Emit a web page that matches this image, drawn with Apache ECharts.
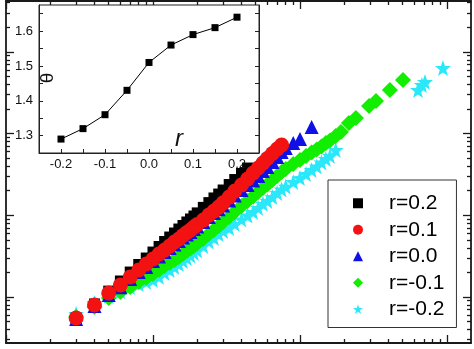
<!DOCTYPE html>
<html>
<head>
<meta charset="utf-8">
<script src="https://cdn.jsdelivr.net/npm/echarts@6/dist/echarts.min.js"></script>
<style>html,body{margin:0;padding:0;background:#fff}#c{width:474px;height:349px}</style>
</head>
<body>
<div id="c"></div>
<script>
// ---------- main plot data (log-log) ----------
const xBlack = [3,4,5,6,7,8,9,10,11,12,13,14,15,16,17,18,19,20,22,24,26,28,30,33,36,40,44];
const yBlack = [5.53,8.21,11.8,15.7,20.2,25.0,30.0,35.5,41.5,47.8,54.2,60.7,67.9,75.0,82.8,90.1,98.0,107,125,143,163,182,204,238,274,325,379];

const xRed = [3,4,5,6,7,8,9,10,11,12,13,14,15,16,17,18,19,20,22,24,26,28,30,33,36,40,44,48,52,56,60,65,70,75];
const yRed = [5.53,7.98,11.2,14.0,17.6,21.4,25.3,29.2,33.6,37.6,42.1,47.1,51.3,56.6,61.5,66.1,71.9,77.1,87.5,101,113,126,142,167,198,235,278,329,379,437,496,571,648,725];

const xBlue = [3,4,5,6,7,8,9,10,11,12,13,14,15,16,17,18,19,20,22,24,26,28,30,33,36,40,44,48,52,56,60,65,70,75,80,90,100,120];
const yBlue = [5.38,7.76,10.6,13.2,16.6,20.2,23.3,27.6,31.3,35.5,39.8,43.9,48.5,53.5,58.2,62.5,68.0,72.9,82.8,95.3,107,119,132,152,175,204,235,267,303,349,390,449,517,596,667,767,859,1205];

const xGreen = [3,4,5,6,7,8,9,10,11,12,13,14,15,16,17,18,19,20,22,24,26,28,30,33,36,40,44,48,52,56,60,65,70,75,80,90,100,110,120,130,140,150,160,175,190,215,240,295,329,409,502];
const yGreen = [5.69,7.55,9.72,11.5,13.3,15.3,17.1,19.1,21.4,23.9,26.1,28.4,30.9,33.6,36.6,39.2,42.1,45.2,51.3,59.0,66.1,74.0,82.8,95.3,110,130,150,170,193,216,238,270,303,339,369,425,475,532,587,639,695,767,823,935,1047,1349,1552,2178,2506,3417,4530];

const xCyan = [3,4,5,6,7,8,9,10,11,12,13,14,15,16,17,18,19,20,22,24,26,28,30,33,36,40,44,48,52,56,60,65,70,75,80,90,100,110,120,130,140,150,160,175,635,676,709,939];
const yCyan = [6.19,8.45,10.3,11.8,13.3,14.4,15.3,16.2,17.6,19.7,21.4,23.3,25.3,27.6,30.0,32.2,34.6,37.1,42.1,47.8,52.7,59.0,64.3,69.9,78.3,88.9,99.4,110,123,138,150,167,188,207,225,256,286,320,359,396,443,489,532,630,3417,3936,4285,6353];

const seriesNames = ['r=0.2','r=0.1','r=0.0','r=-0.1','r=-0.2'];

// ---------- inset data ----------
const rValues = [-0.2,-0.15,-0.1,-0.05,0.0,0.05,0.1,0.15,0.2];
const thetaValues = [1.29,1.32,1.36,1.43,1.51,1.56,1.59,1.61,1.64];
const insetXLabels = [-0.2,-0.1,0.0,0.1,0.2];
const insetXTicks = [-0.25,-0.2,-0.15,-0.1,-0.05,0,0.05,0.1,0.15,0.2,0.25];
const insetYLabels = [1.3,1.4,1.5,1.6];
const insetYTicks = [1.3,1.35,1.4,1.45,1.5,1.55,1.6,1.65];

// ---------- axis ticks (log) ----------
const xMajor = [1,10,100,1000];
const xMinor = [2,3,4,5,6,7,8,9,20,30,40,50,60,70,80,90,200,300,400,500,600,700,800,900];
const yMajor = [10,100,1000,10000];
const yMinor = [3,4,5,6,7,8,9,20,30,40,50,60,70,80,90,200,300,400,500,600,700,800,900,2000,3000,4000,5000,6000,7000,8000,9000,20000,30000,40000];

const X_MIN = 1, X_MAX = 1457, Y_MIN = 2.735, Y_MAX = 41976;
const STAR = 'path://M0,-10L2.35,-3.24L9.51,-3.09L3.8,1.24L5.88,8.09L0,4L-5.88,8.09L-3.8,1.24L-9.51,-3.09L-2.35,-3.24Z';
const FONT = 'Liberation Sans, Arial, sans-serif';
const AX = '#1a1a1a';

function pairs(xs, ys){ return xs.map((x,i)=>[x, ys[i]]); }

function logAxis(kind, pos, ticks, len, showLine){
  return {
    type:'log', logBase:10, gridIndex:0, position:pos,
    min: kind==='x'?X_MIN:Y_MIN, max: kind==='x'?X_MAX:Y_MAX,
    axisLine:{show:showLine, onZero:false, lineStyle:{color:AX, width:1.8}},
    axisTick:{show:true, inside:true, length:len, customValues:ticks, lineStyle:{color:AX, width:1.3}},
    axisLabel:{show:false}, splitLine:{show:false}, minorTick:{show:false}, minorSplitLine:{show:false}
  };
}

const chart = echarts.init(document.getElementById('c'), null, {renderer:'canvas'});
const option = {
  animation:false,
  backgroundColor:'#fff',
  grid:[
    {left:6, right:3, top:1, bottom:6, show:false},
    {left:39, top:5, width:220, height:148, show:true, backgroundColor:'#fff', borderColor:'#222', borderWidth:1, z:3}
  ],
  xAxis:[
    logAxis('x','bottom',xMajor,8,true),
    logAxis('x','bottom',xMinor,4,false),
    logAxis('x','top',xMajor,8,true),
    logAxis('x','top',xMinor,4,false),
    {type:'value', gridIndex:1, position:'bottom', min:-0.25, max:0.25, z:4,
     axisLine:{show:true, onZero:false, lineStyle:{color:'#222', width:1}},
     axisTick:{show:true, inside:true, length:4, customValues:insetXTicks, lineStyle:{color:'#222'}},
     axisLabel:{show:true, customValues:insetXLabels, margin:5, fontSize:13, fontFamily:FONT, color:'#111',
       formatter:(v)=>Number(v).toFixed(1)},
     splitLine:{show:false}}
  ],
  yAxis:[
    logAxis('y','left',yMajor,8,true),
    logAxis('y','left',yMinor,4,false),
    logAxis('y','right',yMajor,8,true),
    logAxis('y','right',yMinor,4,false),
    {type:'value', gridIndex:1, position:'left', min:1.25, max:1.675, z:4,
     axisLine:{show:true, onZero:false, lineStyle:{color:'#222', width:1}},
     axisTick:{show:true, inside:true, length:4, customValues:insetYTicks, lineStyle:{color:'#222'}},
     axisLabel:{show:true, customValues:insetYLabels, margin:6, fontSize:13, fontFamily:FONT, color:'#111',
       formatter:(v)=>Number(v).toFixed(1)},
     splitLine:{show:false}},
    {type:'value', gridIndex:1, position:'right', min:1.25, max:1.675, z:4,
     axisLine:{show:true, onZero:false, lineStyle:{color:'#222', width:1}},
     axisTick:{show:true, inside:true, length:4, customValues:insetYTicks, lineStyle:{color:'#222'}},
     axisLabel:{show:false}, splitLine:{show:false}}
  ],
  legend:{
    orient:'vertical', left:328, top:180, padding:[10,12,5,25], itemGap:0,
    itemWidth:10, itemHeight:10, borderColor:'#333', borderWidth:1, borderRadius:0,
    backgroundColor:'#fff', selectedMode:false, z:10,
    textStyle:{fontSize:21, fontFamily:FONT, color:'#000', lineHeight:26.5, padding:[0,0,0,21]},
    data:[
      {name:seriesNames[0], icon:'rect'},
      {name:seriesNames[1], icon:'circle'},
      {name:seriesNames[2], icon:'triangle'},
      {name:seriesNames[3], icon:'diamond'},
      {name:seriesNames[4], icon:STAR}
    ]
  },
  graphic:[
    {type:'text', x:48, y:78, rotation:Math.PI/2, z:20,
     style:{text:'θ', fontSize:19, fontFamily:FONT, fill:'#111', align:'center', verticalAlign:'middle'}},
    {type:'text', x:179, y:139, z:20,
     style:{text:'r', fontSize:24, fontStyle:'italic', fontFamily:FONT, fill:'#111', align:'center', verticalAlign:'middle'}}
  ],
  series:[
    {type:'scatter', name:seriesNames[4], xAxisIndex:0, yAxisIndex:0, data:pairs(xCyan,yCyan),
     symbol:STAR, symbolSize:16, itemStyle:{color:'#2ae8fa', opacity:1}, z:2},
    {type:'scatter', name:seriesNames[3], xAxisIndex:0, yAxisIndex:0, data:pairs(xGreen,yGreen),
     symbol:'diamond', symbolSize:16, itemStyle:{color:'#11ee00', opacity:1}, z:2},
    {type:'scatter', name:seriesNames[2], xAxisIndex:0, yAxisIndex:0, data:pairs(xBlue,yBlue),
     symbol:'triangle', symbolSize:14, itemStyle:{color:'#1010e6', opacity:1}, z:2},
    {type:'scatter', name:seriesNames[0], xAxisIndex:0, yAxisIndex:0, data:pairs(xBlack,yBlack),
     symbol:'rect', symbolSize:11, itemStyle:{color:'#000', opacity:1}, z:2},
    {type:'scatter', name:seriesNames[1], xAxisIndex:0, yAxisIndex:0, data:pairs(xRed,yRed),
     symbol:'circle', symbolSize:15, itemStyle:{color:'#f21212', opacity:1}, z:2},
    {type:'line', xAxisIndex:4, yAxisIndex:4, data:pairs(rValues,thetaValues), z:5,
     symbol:'rect', symbolSize:7, showSymbol:true, lineStyle:{color:'#000', width:1},
     itemStyle:{color:'#000'}, legendHoverLink:false}
  ]
};
chart.setOption(option);
</script>
</body>
</html>
